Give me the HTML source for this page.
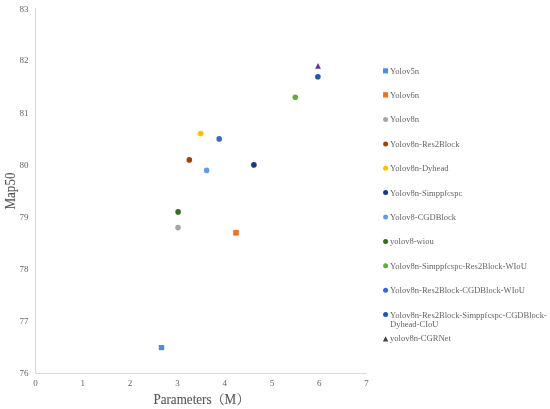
<!DOCTYPE html>
<html><head><meta charset="utf-8">
<style>
html,body{margin:0;padding:0;background:#fff;}
body{width:550px;height:409px;overflow:hidden;}
svg{display:block;}
text{font-family:"Liberation Serif","Noto Serif CJK SC",serif;}
.t{font-size:9px;fill:#646464;}
.lg{font-size:8.56px;fill:#646464;}
.ax{font-size:13.1px;fill:#595959;stroke:#595959;stroke-width:0.12px;}
</style></head><body>
<svg width="550" height="409" viewBox="0 0 550 409">
<rect width="550" height="409" fill="#fff"/>
<!-- axes -->
<line x1="35.5" y1="8" x2="35.5" y2="374" stroke="#d9d9d9" stroke-width="1"/>
<line x1="35" y1="373.5" x2="366.5" y2="373.5" stroke="#d9d9d9" stroke-width="1"/>
<!-- y tick labels -->
<g class="t" text-anchor="end">
<text x="28.6" y="11.6">83</text>
<text x="28.6" y="63.45">82</text>
<text x="28.6" y="115.75">81</text>
<text x="28.6" y="167.9">80</text>
<text x="28.6" y="219.9">79</text>
<text x="28.6" y="272.0">78</text>
<text x="28.6" y="324.1">77</text>
<text x="28.6" y="376.1">76</text>
</g>
<!-- x tick labels -->
<g class="t" text-anchor="middle">
<text x="35.5" y="385.9">0</text>
<text x="82.8" y="385.9">1</text>
<text x="130.1" y="385.9">2</text>
<text x="177.4" y="385.9">3</text>
<text x="224.7" y="385.9">4</text>
<text x="272" y="385.9">5</text>
<text x="319.3" y="385.9">6</text>
<text x="366.6" y="385.9">7</text>
</g>
<!-- axis titles -->
<g transform="matrix(1,0,0,1.06,0,-24.216)">
<text class="ax" x="153.4" y="403.6">Parameters</text>
<text class="ax" x="224.6" y="403.6">M</text>
</g>
<text class="ax" x="211.5" y="404.3" style="font-family:'Noto Serif CJK SC',serif">（</text>
<text class="ax" x="236.5" y="404.3" style="font-family:'Noto Serif CJK SC',serif">）</text>
<text class="ax" transform="translate(14.6,209.6) rotate(-90) scale(1,1.08)">Map50</text>
<!-- data points -->
<rect x="158.8" y="345" width="5.4" height="5.2" fill="#4a8fd8"/>
<rect x="233.2" y="230" width="5.6" height="5.6" fill="#f0721f"/>
<circle cx="178" cy="227.6" r="2.8" fill="#a5a5a5"/>
<circle cx="189.3" cy="159.9" r="2.8" fill="#a0430b"/>
<circle cx="200.65" cy="133.6" r="2.8" fill="#ffc000"/>
<circle cx="253.9" cy="164.9" r="2.8" fill="#1d3685"/>
<circle cx="206.6" cy="170.4" r="2.8" fill="#619de0"/>
<circle cx="178.1" cy="211.9" r="2.8" fill="#336d1f"/>
<circle cx="295.3" cy="97.3" r="2.8" fill="#62ae36"/>
<circle cx="219.2" cy="138.9" r="2.8" fill="#3b68c9"/>
<circle cx="317.9" cy="76.8" r="2.8" fill="#1c5aa6"/>
<polygon points="318,63.6 320.5,68.6 315.5,68.6" fill="#6a2aae" stroke="#3b2175" stroke-width="0.4"/>
<!-- legend -->
<g class="lg">
<rect x="383" y="68.3" width="5" height="5.1" fill="#4a8fd8"/>
<text x="390" y="73.8">Yolov5n</text>
<rect x="383.1" y="92.2" width="5" height="5.3" fill="#f0721f"/>
<text x="390" y="97.82">Yolov6n</text>
<circle cx="385.6" cy="119.54" r="2.5" fill="#a5a5a5"/>
<text x="390" y="122.45">Yolov8n</text>
<circle cx="385.6" cy="143.91" r="2.5" fill="#a0430b"/>
<text x="390" y="146.56">Yolov8n-Res2Block</text>
<circle cx="385.6" cy="168.28" r="2.5" fill="#ffc000"/>
<text x="390" y="170.93">Yolov8n-Dyhead</text>
<circle cx="385.6" cy="192.45" r="2.5" fill="#1d3685"/>
<text x="390" y="195.9">Yolov8n-Simppfcspc</text>
<circle cx="385.6" cy="217.02" r="2.5" fill="#619de0"/>
<text x="390" y="219.67">Yolov8-CGDBlock</text>
<circle cx="385.6" cy="241.39" r="2.5" fill="#336d1f"/>
<text x="390" y="244.04">yolov8-wiou</text>
<circle cx="385.6" cy="265.76" r="2.5" fill="#62ae36"/>
<text x="390" y="269.3">Yolov8n-Simppfcspc-Res2Block-WIoU</text>
<circle cx="385.6" cy="290.13" r="2.5" fill="#3b68c9"/>
<text x="390" y="293.2">Yolov8n-Res2Block-CGDBlock-WIoU</text>
<circle cx="385.6" cy="314.50" r="2.5" fill="#1c5aa6"/>
<text x="390" y="317.6">Yolov8n-Res2Block-Simppfcspc-CGDBlock-</text>
<text x="390" y="326.9">Dyhead-CIoU</text>
<polygon points="385.6,336.2 388.3,341.5 382.9,341.5" fill="#404040"/>
<text x="390" y="341.3">yolov8n-CGRNet</text>
</g>
</svg>
</body></html>
